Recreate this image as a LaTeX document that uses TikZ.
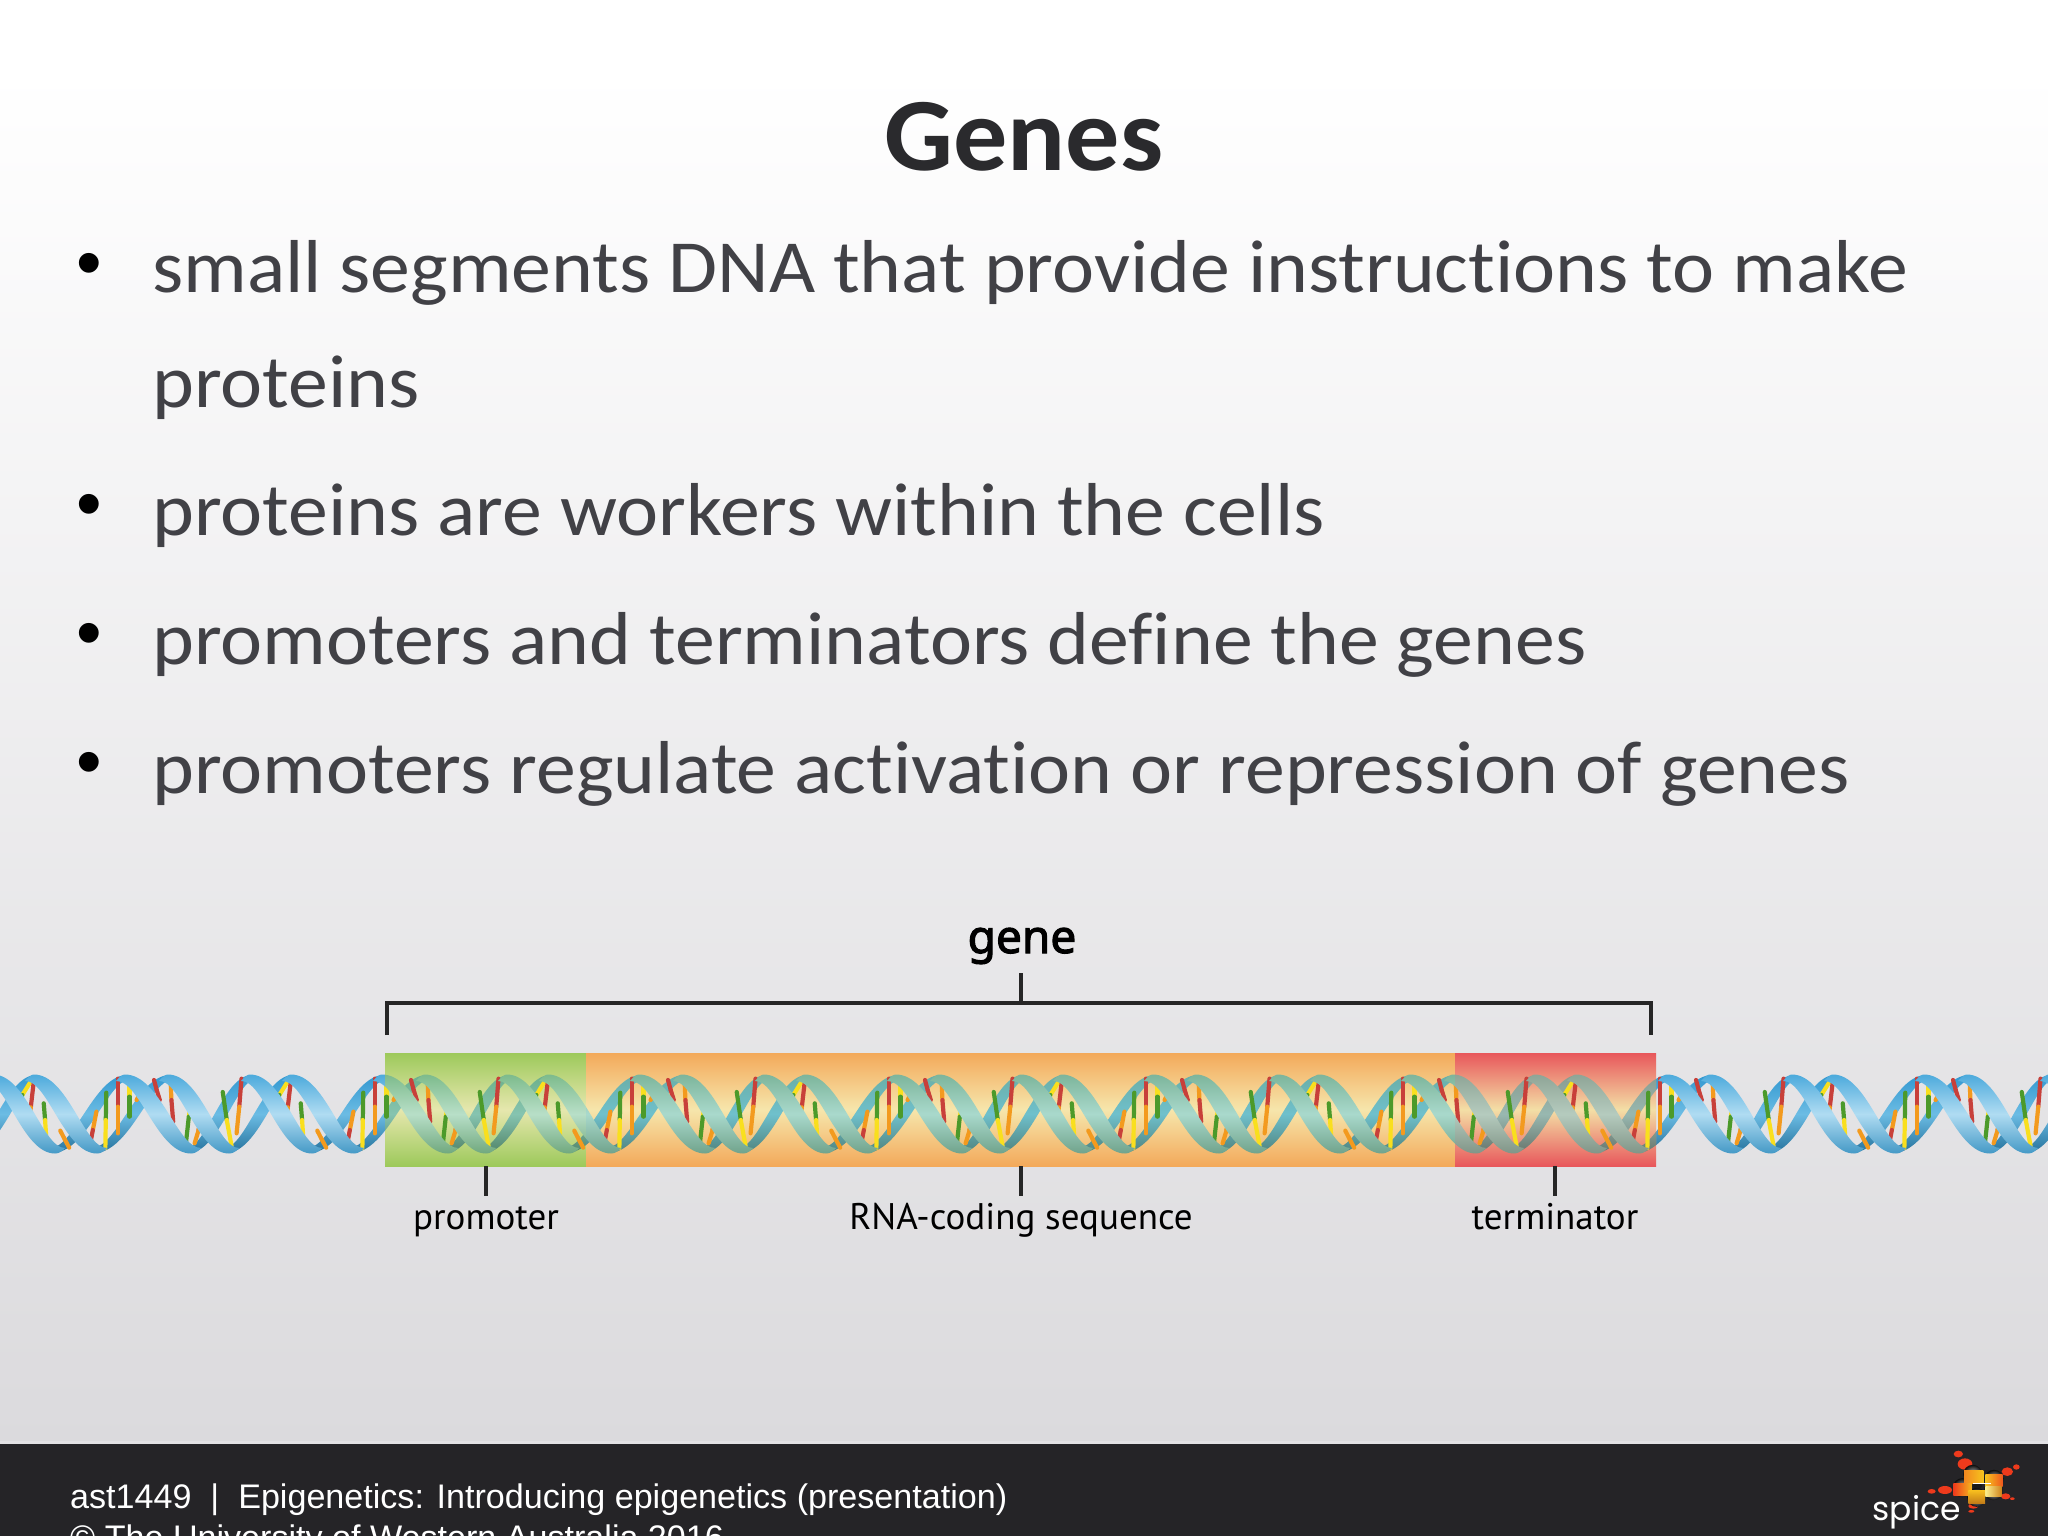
\documentclass[tikz,border=0pt]{standalone}
\usepackage{fontspec}
\setmainfont{Carlito}[Ligatures=NoCommon,FakeStretch=1.063]
\newfontfamily\titlef{Carlito}[Ligatures=NoCommon,FakeStretch=1.04]
\newfontfamily\arialf{Liberation Sans}
\newfontfamily\labelf{PT Sans}
\newfontfamily\genef{Noto Sans}[FakeBold=2.5]
\newfontfamily\logof{Poppins}
\definecolor{bgend}{HTML}{DBDADD}
\definecolor{foot}{HTML}{252427}
\definecolor{bodytx}{HTML}{414146}
\definecolor{titletx}{HTML}{2A2A2D}
\definecolor{rr}{HTML}{C8403A}
\definecolor{oo}{HTML}{F39A1E}
\definecolor{yy}{HTML}{F9DF1E}
\definecolor{gg}{HTML}{4C9A2A}
\definecolor{lred}{HTML}{EE3A1C}
\definecolor{gt}{HTML}{9DC95B}\definecolor{gm}{HTML}{E6E7AE}
\definecolor{ot}{HTML}{F3A95A}\definecolor{om}{HTML}{F6E6AC}
\definecolor{rt}{HTML}{E8575B}\definecolor{rm}{HTML}{F3DFA6}
\tikzset{
  bodytext/.style={anchor=base west,inner sep=0pt,text=bodytx,font=\fontsize{75}{75}\selectfont},
  bul/.style={anchor=base,inner sep=0pt,text=black,font=\arialf\fontsize{73}{73}\selectfont},
  lab/.style={anchor=base,inner sep=0pt,text=black,font=\labelf\fontsize{37}{37}\selectfont},
  foottext/.style={anchor=base west,inner sep=0pt,text=white,font=\arialf\fontsize{34.1}{34.1}\selectfont},
  tick/.style={draw=black!85,line width=3.4pt},
  rung/.style={line width=4.2pt,line cap=round},
  band/.style={inner sep=0pt,outer sep=0pt,minimum height=113pt},
}
\definecolor{ribf}{HTML}{4CAADC}\definecolor{ribm}{HTML}{B0DCF2}
\definecolor{ribb}{HTML}{3298D0}\definecolor{ribn}{HTML}{6CBCE4}
% descending (front) ribbon from peak #1 to trough #2
\newcommand\frontrib[2]{%
  \pgfmathsetmacro\cc{0.364*(#2-#1)}%
  \shade[top color=ribf,bottom color=ribf!90!black,middle color=ribm]
   ({#1-2},1074.5) .. controls ({#1+\cc+10},1074.5) and ({#2-\cc+10},1148) .. ({#2+11},1148)
   .. controls ({#2+7},1153) and ({#2+3},1153.5) .. ({#2+1},1153.5)
   .. controls ({#2-\cc-10},1153.5) and ({#1+\cc-10},1080) .. ({#1-11},1081)
   .. controls ({#1-7},1076) and ({#1-4},1074.5) .. cycle;}
% ascending (back) ribbon from trough #1 to peak #2
\newcommand\backrib[2]{%
  \pgfmathsetmacro\cc{0.364*(#2-#1)}%
  \shade[top color=ribb,bottom color=ribb!75!black,middle color=ribn]
   ({#1-2},1153) .. controls ({#1+\cc+7},1153) and ({#2-\cc+7},1079) .. ({#2+4},1079)
   .. controls ({#2+3},1076) and ({#2+1},1075) .. ({#2},1075)
   .. controls ({#2-\cc-6},1075) and ({#1+\cc-6},1148) .. ({#1-4},1148)
   -- cycle;}
% rung in zoom units: a, mid, b and two colours
\newcommand\rungz[8]{%
  \draw[rung,#7] (#1,#2) -- (#3,#4);
  \draw[rung,#8] (#3,#4) -- (#5,#6);}
\newcommand\allrungs{%
  \rungz{70}{182}{50}{225}{32}{258}{yy}{gg}
  \rungz{75}{192}{69}{262}{62}{333}{rr}{oo}
  \rungz{98}{250}{101}{300}{105}{380}{gg}{yy}
  \rungz{135}{332}{145}{358}{155}{383}{oo}{oo}
  \rungz{168}{340}{178}{340}{188}{342}{yy}{yy}
  \rungz{216}{275}{208}{330}{201}{380}{oo}{rr}
  \rungz{238}{218}{237}{300}{236}{384}{gg}{yy}
  \rungz{264}{176}{264}{260}{264}{340}{rr}{oo}
  \rungz{290}{172}{290}{230}{290}{290}{yy}{gg}
  \rungz{318}{210}{312}{225}{306}{240}{oo}{oo}
  \rungz{345}{180}{351}{210}{358}{240}{rr}{rr}
  \rungz{382}{176}{384}{240}{388}{305}{oo}{rr}
  \rungz{430}{232}{423}{290}{415}{388}{yy}{gg}
  \rungz{453}{285}{445}{330}{436}{370}{rr}{oo}
  \rungz{445}{326}{457}{326}{470}{326}{oo}{oo}
  \rungz{499}{216}{508}{300}{519}{380}{gg}{yy}
  \rungz{541}{176}{536}{260}{530}{340}{rr}{oo}}
\newcommand\helix{%
  \foreach \n in {-1,...,8}{
    \pgfmathsetmacro\sx{\n*257}
    \begin{scope}[xshift=\sx pt]
      \backrib{54}{127}\backrib{96}{170}\backrib{190}{252}\backrib{228}{293}
    \end{scope}}
  \foreach \n in {-1,...,8}{
    \pgfmathsetmacro\sx{\n*257}
    \begin{scope}[xshift=\sx pt,shift={(0,1020)},x=0.4464pt,y=-0.3333pt]
      \allrungs
    \end{scope}}
  \foreach \n in {-1,...,8}{
    \pgfmathsetmacro\sx{\n*257}
    \begin{scope}[xshift=\sx pt]
      \frontrib{36}{96}\frontrib{127}{190}\frontrib{170}{228}\frontrib{252}{311}
    \end{scope}}}
\newcommand\helixin[6]{% node, colours
  \begin{scope}
    \clip (#1.north west) rectangle (#1.south east);
    \definecolor{ribf}{HTML}{#2}\definecolor{ribm}{HTML}{#3}
    \definecolor{ribb}{HTML}{#4}\definecolor{ribn}{HTML}{#5}
    \helix
  \end{scope}}
\begin{document}
\begin{tikzpicture}[x=1pt,y=-1pt]
\useasboundingbox (0,0) rectangle (2048,1536);
\begin{scope}
\clip (0,0) rectangle (2048,1536);
% background
\shade[top color=white,bottom color=bgend] (0,70) rectangle (2048,1444);
\fill[white] (0,0) rectangle (2048,70);
\fill[bgend!80!white] (0,1441) rectangle (2048,1444);
\fill[foot] (0,1444) rectangle (2048,1536);
% title
\node[anchor=base,inner sep=0pt,text=titletx,font=\titlef\bfseries\fontsize{104}{104}\selectfont] (title) at (1024,170) {Genes};
% bullets
\node[bul] (b1) at (89,287) {•};
\node[bul] (b2) at (89,528) {•};
\node[bul] (b3) at (89,657) {•};
\node[bul] (b4) at (89,786) {•};
\node[bodytext] (t1) at (152,292) {small segments DNA that provide instructions to make};
\node[bodytext] (t1b) at (152,407) {proteins};
\node[bodytext] (t2) at (152,535) {proteins are workers within the cells};
\node[bodytext] (t3) at (152,664) {promoters and terminators define the genes};
\node[bodytext] (t4) at (152,793) {promoters regulate activation or repression of genes};
% helix outside the bands
\helix
% colour bands
\node[band,minimum width=201pt,top color=gt,bottom color=gt,middle color=gm] (prom) at (485.5,1109.5) {};
\node[band,minimum width=869pt,top color=ot,bottom color=ot,middle color=om] (cod) at (1020.5,1109.5) {};
\node[band,minimum width=201pt,top color=rt,bottom color=rt,middle color=rm] (term) at (1555.5,1109.5) {};
% helix inside the bands, tinted
\helixin{prom}{7DBB8C}{B8DFC8}{6DB08C}{86C4B0}{}
\helixin{cod}{7DB59B}{A9D9CC}{6AAFA8}{6FC0CC}{}
\helixin{term}{8FA596}{B5CBBE}{8A9C90}{98B8B0}{}
% bracket
\coordinate (bl) at (387,1035);
\coordinate (br) at (1651,1035);
\coordinate (btop) at (1021,1003);
\coordinate (bstem) at (1021,973);
\draw[tick] (bl) |- (btop) -| (br);
\draw[tick] (btop) -- (bstem);
\node[lab,font=\genef\fontsize{46}{46}\selectfont] (gene) at (1022,953) {gene};
% labels
\coordinate (pa) at (486,1166);\coordinate (pb) at (486,1196);
\coordinate (ca) at (1021,1166);\coordinate (cb) at (1021,1196);
\coordinate (ta) at (1555,1166);\coordinate (tb) at (1555,1196);
\draw[tick] (pa) -- (pb);
\draw[tick] (ca) -- (cb);
\draw[tick] (ta) -- (tb);
\node[lab] (lp) at (486,1229) {promoter};
\node[lab] (lc) at (1021,1229) {RNA-coding sequence};
\node[lab] (lt) at (1555,1229) {terminator};
% footer
\node[foottext] (f1) at (70,1508) {ast1449\ \ |\ \ Epigenetics: Introducing epigenetics (presentation)};
\node[foottext] (f2) at (70,1549) {© The University of Western Australia 2016};
% logo
\begin{scope}[shift={(1800,1420)},x=0.3333pt,y=-0.3333pt]
\foreach \a/\b/\c/\d in {475/102/14/10,495/132/22/17,622/155/17/13,649/141/10/8,435/210/21/12,395/214/12/7,617/229/14/9,637/236/7/4,520/258/15/8,514/274/9/4}{
  \fill[lred] (\a,\b) ellipse [x radius=\c*0.3333pt,y radius=\d*0.3333pt];}
\foreach \a/\b in {518/163,582/178,487/203,580/212,530/232}{
  \shade[inner color=black!20,outer color=black!95] (\a,\b) circle [radius=9.5pt];}
\shade[left color=oo!80!lred,right color=yy!60!oo] (492,152) rectangle (550,190);
\shade[left color=yy!60!oo,right color=lred!70!oo] (556,163) rectangle (608,198);
\shade[left color=lred,right color=oo!60!yy] (460,190) rectangle (515,225);
\shade[left color=yy!50!white,right color=oo!85!black] (556,200) rectangle (605,230);
\shade[top color=yy!50!oo,bottom color=oo!80!black] (505,212) rectangle (555,250);
\fill[black!90] (532,198) ellipse [x radius=5pt,y radius=2.5pt];
\fill[white] (520,188) rectangle (572,191);
\node[anchor=base,inner sep=0pt,text=white,font=\logof\fontsize{33}{33}\selectfont] (spice) at (350,300) {spice};
\end{scope}
\end{scope}
\end{tikzpicture}
\end{document}
